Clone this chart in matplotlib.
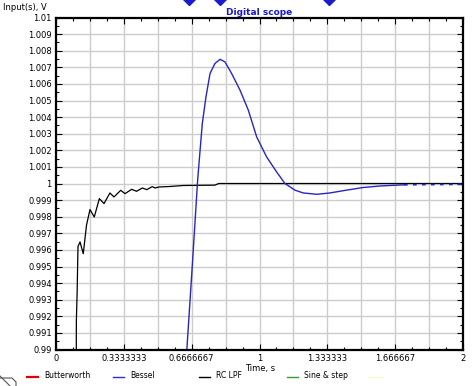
#!/usr/bin/env python3
# -*- coding: utf-8 -*-

import matplotlib
matplotlib.use('Agg')
import matplotlib.pyplot as plt
from matplotlib.lines import Line2D
from matplotlib.ticker import MultipleLocator, FixedLocator

plt.rcParams['font.family'] = ['DejaVu Sans']

# RC LPF (black) response
rc_t = [0.0, 0.098, 0.100, 0.104, 0.108, 0.118, 0.134, 0.150, 0.167, 0.188,
        0.213, 0.236, 0.265, 0.285, 0.318, 0.339, 0.372, 0.396, 0.424, 0.446,
        0.473, 0.487, 0.506, 0.560, 0.626, 0.780, 0.800, 2.0]
rc_v = [0.980, 0.980, 0.9917, 0.9935, 0.9962, 0.99648, 0.99577, 0.9975,
        0.99843, 0.99798, 0.99909, 0.99879, 0.99943, 0.99919, 0.99959,
        0.99939, 0.99965, 0.99953, 0.99973, 0.99963, 0.99981, 0.99973,
        0.99979, 0.99982, 0.99988, 0.99990, 1.0, 1.0]

# Bessel (blue) response
bessel_t = [0.640, 0.643, 0.670, 0.696, 0.708, 0.719, 0.737, 0.757, 0.781,
            0.806, 0.830, 0.863, 0.904, 0.945, 0.986, 1.035, 1.084,
            1.125, 1.174, 1.215, 1.281, 1.346, 1.428, 1.510, 1.592, 1.674,
            1.710]
bessel_v = [0.9895, 0.990, 0.9951, 1.0002, 1.0020, 1.00362, 1.00522, 1.00663,
            1.00723, 1.00748, 1.00733, 1.00663, 1.00563, 1.00442, 1.00281,
            1.0016, 1.0007, 1.0, 0.9996, 0.99943, 0.99935, 0.99943,
            0.9996, 0.99976, 0.99985, 0.9999, 0.99992]
bessel_tail_t = [1.710, 2.0]
bessel_tail_v = [0.99992, 0.99995]

# cursor markers above the plot
cursor_t = [0.654, 0.806, 1.341]

xtick_vals = [0, 1 / 3, 2 / 3, 1, 4 / 3, 5 / 3, 2]
xtick_labels = ['0', '0.3333333', '0.6666667', '1', '1.333333', '1.666667', '2']
ytick_vals = [0.99 + 0.001 * i for i in range(21)]

legend_names = ['Butterworth', 'Bessel', 'RC LPF', 'Sine & step']
legend_colors = ['#e00000', '#3030c0', '#000000', '#30a030']

fig = plt.figure(figsize=(4.74, 3.86), dpi=100)
ax = fig.add_axes([56 / 474, 1 - 349.5 / 386, 407 / 474, 332 / 386])

ax.plot(rc_t, rc_v, color='black', lw=0.9)
ax.plot(bessel_t, bessel_v, color='#2626c0', lw=1.0)
ax.plot(bessel_tail_t, bessel_tail_v, color='#2626c0', lw=1.2,
        dashes=(2.2, 3.2))

ax.set_xlim(0, 2)
ax.set_ylim(0.99, 1.01)

ax.xaxis.set_major_locator(FixedLocator(xtick_vals))
ax.set_xticklabels(xtick_labels)
ax.xaxis.set_minor_locator(MultipleLocator(1 / 12))
ax.yaxis.set_major_locator(FixedLocator(ytick_vals))
ax.set_yticklabels(['%g' % round(v, 3) for v in ytick_vals])
ax.yaxis.set_minor_locator(MultipleLocator(0.0005))

# grid every 1/6 s and every 0.001 V
for g in [i / 6 for i in range(1, 12)]:
    ax.axvline(g, color='#cccccc', lw=1.0, zorder=0)
for g in ytick_vals[1:-1]:
    ax.axhline(g, color='#cccccc', lw=1.0, zorder=0)

ax.tick_params(which='both', direction='in', top=True, right=True,
               labelsize=6, width=0.8, colors='black')
ax.tick_params(which='major', length=4, pad=3)
ax.tick_params(which='minor', length=2.5)
for s in ax.spines.values():
    s.set_linewidth(1.6)

ax.plot(cursor_t, [1.056] * len(cursor_t), 'D', color='#1a1ad0',
        markersize=6, clip_on=False,
        transform=ax.get_xaxis_transform())

ax.set_title('Digital scope', fontsize=6.5, fontweight='bold',
             color='#1a1ac8', pad=1.5)
fig.text(3 / 474, 1 - 7 / 386, 'Input(s), V', fontsize=6, va='center')
fig.text(260 / 474, 1 - 369 / 386, 'Time, s', fontsize=6, ha='center',
         va='center')

# legend row at the bottom
leg_x = [27, 113, 199, 287]
leg_y = 1 - 377 / 386
for x, name, c in zip(leg_x, legend_names, legend_colors):
    lw = 1.6 if name == 'Butterworth' else 1.0
    fig.add_artist(Line2D([x / 474, (x + 11) / 474], [leg_y, leg_y],
                          color=c, lw=lw))
    fig.text((x + 17) / 474, leg_y + 0.004, name, fontsize=5.5, va='center')
fig.add_artist(Line2D([368 / 474, 383 / 474], [leg_y, leg_y],
                      color='#fafad0', lw=1.0))

# small corner glyph
fig.add_artist(Line2D([0, 12 / 474, 16 / 474, 16 / 474],
                      [1 - 378 / 386, 1 - 378 / 386, 1 - 382 / 386, 0],
                      color='#555555', lw=0.8))
fig.add_artist(Line2D([0, 10 / 474], [1 - 376 / 386, 0],
                      color='#555555', lw=0.8))

fig.savefig('out.png', dpi=100)
